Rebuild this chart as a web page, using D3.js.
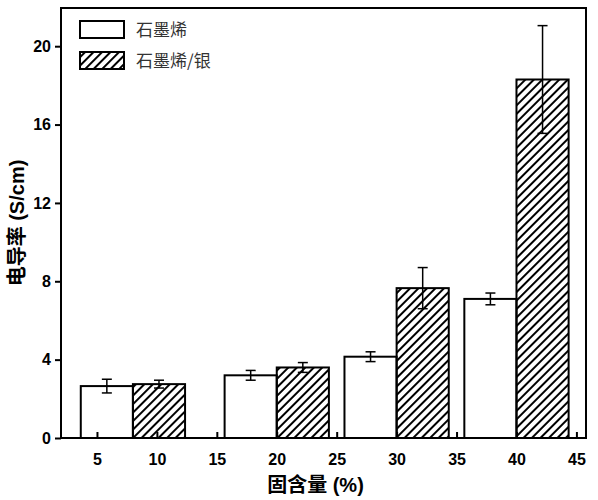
<!DOCTYPE html>
<html><head><meta charset="utf-8">
<script src="https://cdn.jsdelivr.net/npm/d3@7"></script>
<style>body{margin:0;background:#fff}svg{display:block}text{font-family:"Liberation Sans",Arial,sans-serif;font-weight:bold}</style>
</head><body><div id="chart"></div>
<script>
// --- Data ---
const groupX = [8, 20, 30, 40];           // group centres (solid content %)
const grapheneVals = [2.65, 3.2, 4.15, 7.1];
const grapheneErr = [0.35, 0.25, 0.25, 0.3];
const agVals = [2.75, 3.6, 7.65, 18.3];
const agErr = [0.2, 0.25, 1.05, 2.75];
const xTicks = [5, 10, 15, 20, 25, 30, 35, 40, 45];
const yTicks = [0, 4, 8, 12, 16, 20];
const seriesNames = ["石墨烯", "石墨烯/银"];

const W = 598, H = 500;
const m = { top: 8, right: 12, bottom: 62, left: 61 };
const w = W - m.left - m.right, h = H - m.top - m.bottom;
const barW = 4.35;

const svg = d3.select("#chart").append("svg").attr("width", W).attr("height", H);
const defs = svg.append("defs");
defs.append("pattern").attr("id", "hatch").attr("patternUnits", "userSpaceOnUse")
  .attr("width", 6).attr("height", 6).attr("patternTransform", "rotate(45)")
  .append("rect").attr("x", 0).attr("y", 0).attr("width", 2).attr("height", 6).attr("fill", "#000");

const g = svg.append("g").attr("transform", `translate(${m.left},${m.top})`);
const x = d3.scaleLinear().domain([2, 45.8]).range([0, w]);
const y = d3.scaleLinear().domain([0, 21.95]).range([h, 0]);

const series = [
  { vals: grapheneVals, err: grapheneErr, off: -barW, fill: "#fff" },
  { vals: agVals, err: agErr, off: 0, fill: "url(#hatch)" }
];
series.forEach(s => {
  groupX.forEach((gx, i) => {
    const x0 = x(gx + s.off), x1 = x(gx + s.off + barW);
    g.append("rect").attr("x", x0).attr("y", y(s.vals[i])).attr("width", x1 - x0)
      .attr("height", h - y(s.vals[i])).attr("fill", s.fill).attr("stroke", "#000").attr("stroke-width", 2);
    const cx = (x0 + x1) / 2, hi = y(s.vals[i] + s.err[i]), lo = y(s.vals[i] - s.err[i]);
    const eg = g.append("g").attr("stroke", "#000").attr("stroke-width", 1.5);
    eg.append("line").attr("x1", cx).attr("x2", cx).attr("y1", hi).attr("y2", lo);
    [hi, lo].forEach(yy => eg.append("line").attr("x1", cx - 5).attr("x2", cx + 5).attr("y1", yy).attr("y2", yy));
  });
});

// Axes
const xa = g.append("g").attr("transform", `translate(0,${h})`)
  .call(d3.axisBottom(x).tickValues(xTicks).tickSize(-6).tickPadding(16));
const ya = g.append("g").call(d3.axisLeft(y).tickValues(yTicks).tickSize(6).tickPadding(4));
[xa, ya].forEach(a => {
  a.select(".domain").remove();
  a.selectAll("line").attr("stroke-width", 2);
  a.selectAll("text").style("font-size", "16px").style("font-weight", "bold").attr("fill", "#000");
});
g.append("rect").attr("width", w).attr("height", h).attr("fill", "none").attr("stroke", "#000").attr("stroke-width", 2);

// Axis labels
svg.append("text").attr("x", m.left + w / 2 - 8).attr("y", 492).attr("text-anchor", "middle").style("font-size", "20px")
  .html('<tspan style="font-family:\'Noto Sans CJK SC\'">固含量</tspan> (%)');
svg.append("text").attr("transform", `translate(24,${m.top + h / 2}) rotate(-90)`).attr("text-anchor", "middle").style("font-size", "20px")
  .html('<tspan style="font-family:\'Noto Sans CJK SC\'">电导率</tspan> (S/cm)');

// Legend
seriesNames.forEach((name, i) => {
  const ly = 21 + i * 31;
  svg.append("rect").attr("x", 80).attr("y", ly).attr("width", 44).attr("height", 17)
    .attr("fill", series[i].fill).attr("stroke", "#000").attr("stroke-width", 2);
  svg.append("text").attr("x", 136).attr("y", ly + 15).style("font-family", "'Noto Sans CJK SC'")
    .style("font-weight", "normal").style("font-size", "17px").attr("fill", "#333").text(name);
});
</script></body></html>
